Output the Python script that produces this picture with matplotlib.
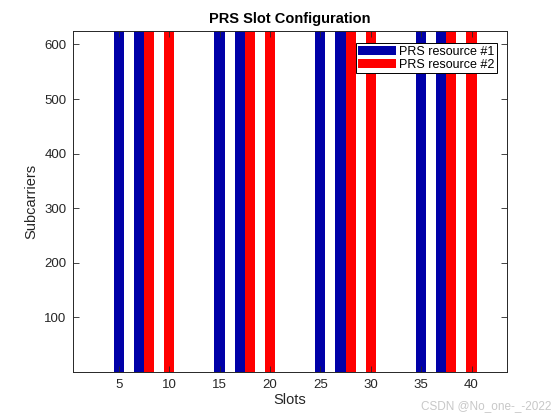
import matplotlib.pyplot as plt
from matplotlib.patches import Patch

# slots occupied by each PRS resource
res1_slots = [5, 7, 15, 17, 25, 27, 35, 37]
res2_slots = [8, 10, 18, 20, 28, 30, 38, 40]
num_slots = 43
num_subcarriers = 624
labels = ["PRS resource #1", "PRS resource #2"]

blue = "#0000A8"
red = "#FF0000"
dark = "#262626"

plt.rcParams['font.family'] = ['Liberation Sans', 'DejaVu Sans']

fig = plt.figure(figsize=(5.6, 4.2), dpi=100)
ax = fig.add_axes([0.131, 0.115, 0.774, 0.811])

ax.bar(res1_slots, num_subcarriers, width=1, bottom=0.5, color=blue, linewidth=0)
ax.bar(res2_slots, num_subcarriers, width=1, bottom=0.5, color=red, linewidth=0)

ax.set_xlim(0.5, num_slots + 0.5)
ax.set_ylim(0.5, num_subcarriers + 0.5)
ax.set_xticks(range(5, 41, 5))
ax.set_yticks(range(100, 601, 100))

ax.tick_params(direction='in', top=True, right=True, length=4, width=0.6,
               labelsize=9.5, colors=dark, pad=5)
for s in ax.spines.values():
    s.set_color(dark)
    s.set_linewidth(0.7)

ax.set_title("PRS Slot Configuration", fontsize=10.5, fontweight='bold', pad=6)
ax.set_xlabel("Slots", fontsize=10.5, color=dark, labelpad=2)
ax.set_ylabel("Subcarriers", fontsize=10.5, color=dark, labelpad=4)

handles = [Patch(facecolor=blue), Patch(facecolor=red)]
leg = ax.legend(handles, labels, loc='upper right', bbox_to_anchor=(0.977, 0.964),
                borderaxespad=0, fontsize=9, handlelength=3.0, handleheight=0.8,
                handletextpad=0.25, labelspacing=0.05, borderpad=0.2,
                fancybox=False, framealpha=1)
leg.get_frame().set_edgecolor('black')
leg.get_frame().set_linewidth(0.7)

fig.text(0.985, 0.02, "CSDN @No_one-_-2022", ha='right', va='bottom',
         fontsize=8.5, color='#c8c8c8')

fig.savefig("out.png", dpi=100)
